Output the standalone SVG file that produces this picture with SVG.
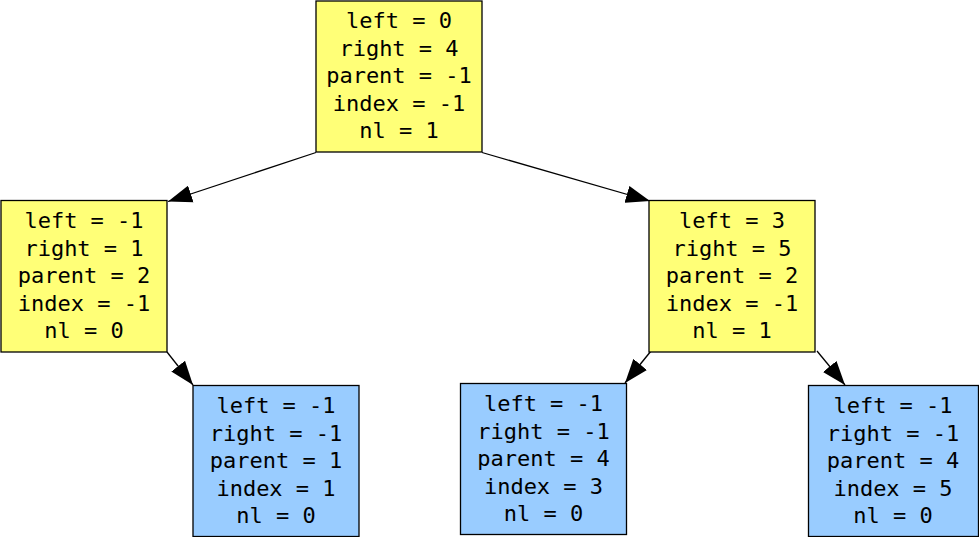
<svg xmlns="http://www.w3.org/2000/svg" width="979" height="537" viewBox="0 0 979 537">
<style>
.y{fill:#ffff77;stroke:#000;stroke-width:1.3}
.b{fill:#99ccff;stroke:#000;stroke-width:1.3}
text{font-family:"DejaVu Sans Mono","Liberation Mono",monospace;font-size:22px;fill:#000;text-anchor:middle}
.e{stroke:#000;stroke-width:1.3;fill:none;marker-end:url(#ah)}
</style>
<defs>
<marker id="ah" markerUnits="userSpaceOnUse" markerWidth="24" markerHeight="18" viewBox="0 0 22 16" refX="22" refY="8" orient="auto">
<path d="M0,0 L22,8 L0,16 Z" fill="#000"/>
</marker>
</defs>
<rect width="979" height="537" fill="#fff"/>
<g id="edges">
<line class="e" x1="316" y1="152.5" x2="168" y2="201.5"/>
<line class="e" x1="482" y1="152.5" x2="650" y2="201"/>
<line class="e" x1="167" y1="352" x2="193" y2="385"/>
<line class="e" x1="651" y1="351" x2="625" y2="383"/>
<line class="e" x1="817" y1="351" x2="845" y2="385"/>
</g>
<g id="n2">
<rect class="y" x="316" y="1" width="166" height="151"/>
<text x="399" y="28">left = 0</text>
<text x="399" y="55.5">right = 4</text>
<text x="399" y="83">parent = -1</text>
<text x="399" y="110.5">index = -1</text>
<text x="399" y="138">nl = 1</text>
</g>
<g id="n1">
<rect class="y" x="1" y="200.5" width="166" height="151.5"/>
<text x="84" y="228">left = -1</text>
<text x="84" y="255.5">right = 1</text>
<text x="84" y="283">parent = 2</text>
<text x="84" y="310.5">index = -1</text>
<text x="84" y="338">nl = 0</text>
</g>
<g id="n4">
<rect class="y" x="649" y="200.5" width="166" height="151.5"/>
<text x="732" y="228">left = 3</text>
<text x="732" y="255.5">right = 5</text>
<text x="732" y="283">parent = 2</text>
<text x="732" y="310.5">index = -1</text>
<text x="732" y="338">nl = 1</text>
</g>
<g id="n1leaf">
<rect class="b" x="193" y="385.5" width="166" height="151"/>
<text x="276" y="413">left = -1</text>
<text x="276" y="440.5">right = -1</text>
<text x="276" y="468">parent = 1</text>
<text x="276" y="495.5">index = 1</text>
<text x="276" y="523">nl = 0</text>
</g>
<g id="n3leaf">
<rect class="b" x="460.5" y="383.5" width="166" height="151"/>
<text x="543.5" y="411">left = -1</text>
<text x="543.5" y="438.5">right = -1</text>
<text x="543.5" y="466">parent = 4</text>
<text x="543.5" y="493.5">index = 3</text>
<text x="543.5" y="521">nl = 0</text>
</g>
<g id="n5leaf">
<rect class="b" x="808.5" y="385.5" width="170" height="151"/>
<text x="893" y="413">left = -1</text>
<text x="893" y="440.5">right = -1</text>
<text x="893" y="468">parent = 4</text>
<text x="893" y="495.5">index = 5</text>
<text x="893" y="523">nl = 0</text>
</g>
</svg>
